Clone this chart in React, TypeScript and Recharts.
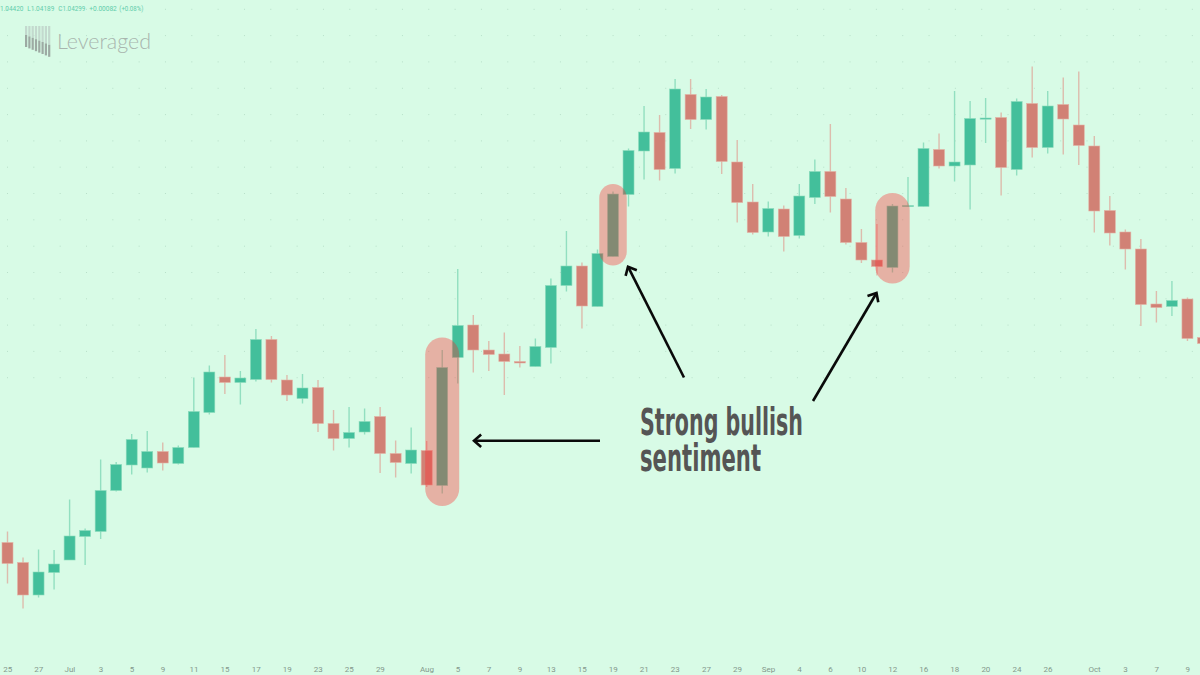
import {
  Bar, CartesianGrid, ComposedChart, XAxis, YAxis,
} from "recharts";

// price per candle
const opens = [
  0.9765, 0.9725, 0.966, 0.9705, 0.973, 0.9777, 0.9787, 0.9869, 0.992, 0.9914,
  0.9947, 0.9923, 0.9955, 1.0025, 1.0096, 1.0085, 1.0091, 1.0171, 1.009, 1.0053,
  1.0075, 1.0003, 0.9973, 0.9986, 1.0017, 0.9943, 0.9923, 0.9949, 0.9879, 1.0135,
  1.02, 1.015, 1.0142, 1.0127, 1.0117, 1.0155, 1.0279, 1.0318, 1.0237, 1.0337,
  1.0461, 1.0548, 1.0585, 1.0513, 1.0661, 1.0611, 1.0657, 1.0526, 1.0446, 1.0386,
  1.0432, 1.0379, 1.0455, 1.0507, 1.0452, 1.0365, 1.033, 1.0315, 1.0437, 1.0437,
  1.0551, 1.0518, 1.052, 1.0612, 1.0615, 1.0511, 1.0643, 1.0555, 1.0641, 1.06,
  1.0558, 1.0429, 1.0386, 1.0352, 1.0242, 1.0237, 1.0252, 1.0175,
];
const highs = [
  0.9787, 0.9735, 0.9751, 0.975, 0.9851, 0.9793, 0.9931, 0.9926, 0.9982, 0.9988,
  0.9965, 0.9959, 1.0095, 1.0119, 1.014, 1.0108, 1.0192, 1.0178, 1.01, 1.0102,
  1.009, 1.003, 1.0036, 1.0033, 1.0036, 0.9969, 0.9995, 0.9968, 1.015, 1.0312,
  1.022, 1.0168, 1.0185, 1.0158, 1.0173, 1.0293, 1.0388, 1.0325, 1.0351, 1.0467,
  1.0553, 1.0638, 1.062, 1.0692, 1.0692, 1.0672, 1.066, 1.057, 1.0482, 1.0447,
  1.0439, 1.0482, 1.0531, 1.0602, 1.0474, 1.0392, 1.0402, 1.0442, 1.0496, 1.0565,
  1.0583, 1.0668, 1.0648, 1.0654, 1.0625, 1.0653, 1.0717, 1.0668, 1.0695, 1.0707,
  1.0578, 1.0458, 1.0391, 1.0372, 1.0268, 1.0288, 1.0255, 1.0186,
];
const lows = [
  0.9683, 0.9633, 0.9655, 0.9671, 0.973, 0.972, 0.9772, 0.9867, 0.9901, 0.9905,
  0.9909, 0.9921, 0.9955, 1.0021, 1.0062, 1.0041, 1.0087, 1.0085, 1.0048, 1.0043,
  0.9986, 0.9949, 0.9955, 0.9981, 0.9904, 0.9895, 0.9903, 0.9876, 0.9863, 1.0083,
  1.0105, 1.0108, 1.006, 1.0115, 1.0117, 1.0123, 1.0267, 1.0193, 1.0237, 1.0337,
  1.0437, 1.0491, 1.0489, 1.0503, 1.0592, 1.0591, 1.0502, 1.0405, 1.0381, 1.0377,
  1.0347, 1.0373, 1.0442, 1.0425, 1.0361, 1.0324, 1.0299, 1.0305, 1.0437, 1.0437,
  1.0513, 1.0487, 1.0431, 1.0564, 1.0459, 1.0499, 1.0535, 1.0543, 1.0541, 1.052,
  1.0385, 1.0359, 1.0311, 1.0198, 1.0205, 1.0218, 1.0168, 1.0158,
];
const closes = [
  0.9723, 0.966, 0.9706, 0.9722, 0.9778, 0.9789, 0.9869, 0.9921, 0.9971, 0.9947,
  0.9924, 0.9955, 1.0027, 1.0106, 1.0085, 1.0094, 1.0171, 1.0091, 1.006, 1.0074,
  1.0003, 0.9973, 0.9985, 1.0007, 0.9943, 0.9925, 0.995, 0.988, 1.0115, 1.0199,
  1.015, 1.0141, 1.0127, 1.0124, 1.0157, 1.0279, 1.0318, 1.0238, 1.0343, 1.0462,
  1.0549, 1.0586, 1.0511, 1.0672, 1.0611, 1.0656, 1.0527, 1.0445, 1.0385, 1.0433,
  1.0377, 1.0458, 1.0507, 1.0457, 1.0365, 1.033, 1.0317, 1.0438, 1.0439, 1.0553,
  1.0518, 1.0526, 1.0613, 1.0614, 1.0515, 1.0647, 1.0555, 1.0638, 1.0612, 1.0559,
  1.0428, 1.0384, 1.0352, 1.0241, 1.0235, 1.0249, 1.0173, 1.0163,
];
const tickLabels = [
  "25", "", "27", "", "Jul", "", "3", "", "5", "", "9", "", "11", "", "15", "", "17", "", "19", "",
  "23", "", "25", "", "29", "", "", "Aug", "", "5", "", "7", "", "9", "", "13", "", "15", "", "19",
  "", "21", "", "23", "", "27", "", "29", "", "Sep", "", "4", "", "6", "", "10", "", "12", "", "16",
  "", "18", "", "20", "", "24", "", "26", "", "", "Oct", "", "3", "", "7", "", "9", "",
];
// the three highlighted candles: index, price span
const highlights = [
  { index: 28, top: 1.0175, bottom: 0.9838 },
  { index: 39, top: 1.0482, bottom: 1.0319 },
  { index: 57, top: 1.0464, bottom: 1.0283 },
];
const capsuleWidths = [34, 27.5, 34.4];
const gridRows = [9.3, 35.6, 61.9, 88.3, 114.6, 140.9, 167.2, 193.5, 219.8, 246.2, 272.5, 298.8, 325.1, 351.4, 377.7];

const data = opens.map((open, i) => {
  const h = highlights.findIndex((c) => c.index === i);
  return {
    i,
    open,
    high: highs[i],
    low: lows[i],
    close: closes[i],
    range: [lows[i], highs[i]] as [number, number],
    capsule: h >= 0 ? ([highlights[h].bottom, highlights[h].top] as [number, number]) : null,
    capWidth: h >= 0 ? capsuleWidths[h] : 0,
  };
});

const BG = "#d8fbe6";
const UP = "#43bf9b";
const DOWN = "#d18175";
const UP_WICK = "#92dfc0";
const DOWN_WICK = "#ddbcad";

function Candle(props: any) {
  const { x, y, width, height, payload } = props;
  const { open, high, low, close } = payload;
  const up = close >= open;
  const perPrice = height / (high - low);
  const cx = x + width / 2;
  const bodyTop = y + (high - Math.max(open, close)) * perPrice;
  const bodyH = Math.max(Math.abs(open - close) * perPrice, 1.2);
  return (
    <g>
      <rect x={cx - 0.7} y={y} width={1.4} height={height} fill={up ? UP_WICK : DOWN_WICK} />
      <rect x={cx - 5.5} y={bodyTop} width={11} height={bodyH} fill={up ? UP : DOWN}
        stroke={up ? "#8ddcbd" : "#e3b3a6"} strokeWidth={0.6} />
    </g>
  );
}

function Capsule(props: any) {
  const { x, y, width, height, payload } = props;
  if (!payload.capsule) return null;
  const w = payload.capWidth;
  return (
    <rect x={x + width / 2 - w / 2} y={y} width={w} height={height} rx={w / 2}
      fill="#ff2426" fillOpacity={0.34} />
  );
}

function Arrow({ x1, y1, x2, y2 }: { x1: number; y1: number; x2: number; y2: number }) {
  const a = Math.atan2(y2 - y1, x2 - x1);
  const arm = 9.5;
  const p1 = [x2 - arm * Math.cos(a - 0.72), y2 - arm * Math.sin(a - 0.72)];
  const p2 = [x2 - arm * Math.cos(a + 0.72), y2 - arm * Math.sin(a + 0.72)];
  return (
    <g stroke="#0a0a0a" strokeWidth={2.6} fill="none">
      <line x1={x1} y1={y1} x2={x2} y2={y2} />
      <path d={`M${p1[0]} ${p1[1]} L${x2} ${y2} L${p2[0]} ${p2[1]}`} />
    </g>
  );
}

const logoBars = [0, 1, 2, 3, 4, 5, 6, 7];

export default function App() {
  return (
    <div style={{ position: "absolute", left: 0, top: 0, width: 1200, height: 675, overflow: "hidden", background: BG }}>
      <ComposedChart width={1211} height={675} data={data} margin={{ top: 0, right: 0, bottom: 0, left: 0 }}>
        <CartesianGrid vertical={false} horizontalPoints={gridRows} stroke="#b8dfc9" strokeDasharray="0 7 1 18.33" />
        <XAxis
          dataKey="i"
          type="category"
          height={15}
          interval={0}
          axisLine={false}
          tickLine={false}
          tickMargin={0}
          tickFormatter={(v) => tickLabels[v]}
          tick={{ fontSize: 8, fill: "#84988c", fontFamily: "Roboto" }}
        />
        <XAxis xAxisId="capsules" dataKey="i" type="category" hide />
        <YAxis hide domain={[0.953, 1.085]} />
        <Bar dataKey="range" barSize={11} shape={Candle} isAnimationActive={false} />
        <Bar xAxisId="capsules" dataKey="capsule" barSize={11} shape={Capsule} isAnimationActive={false} />
      </ComposedChart>
      <svg width={1200} height={675} style={{ position: "absolute", left: 0, top: 0 }}>
        <g fontFamily="Roboto" fontSize={7.5} fill="#62cdab">
          <text x={0} y={11} textLength={23.5} lengthAdjust="spacingAndGlyphs">1.04420</text>
          <text x={27.3} y={11} textLength={27} lengthAdjust="spacingAndGlyphs">L1.04189</text>
          <text x={58.3} y={11} textLength={27} lengthAdjust="spacingAndGlyphs">C1.04299</text>
          <text x={89.3} y={11} textLength={27.5} lengthAdjust="spacingAndGlyphs">+0.00082</text>
          <text x={119.3} y={11} textLength={24} lengthAdjust="spacingAndGlyphs">(+0.08%)</text>
        </g>
        {logoBars.map((k) => (
          <g key={k}>
            <rect x={25 + k * 3.3} y={26} width={2.2} height={9 + k * 1.4} fill="#c3d9ce" />
            <rect x={25 + k * 3.3} y={35 + k * 1.4} width={2.2} height={12} fill="#9daaa3" />
          </g>
        ))}
        <text x={57} y={49} fontFamily="Lato" fontWeight={300} fontSize={22} fill="#a8b5ae" textLength={94} lengthAdjust="spacingAndGlyphs">
          Leveraged
        </text>
        <Arrow x1={600} y1={440.7} x2={474} y2={440.7} />
        <Arrow x1={684} y1={377.5} x2={628} y2={266.7} />
        <Arrow x1={813} y1={401} x2={876.5} y2={293} />
        {/* tall condensed caption: the font is stretched to the reference's height */}
        <g fontFamily="'Liberation Sans Narrow', 'DejaVu Sans Condensed', sans-serif" fontWeight={700} fontSize={30} fill="#555555">
          <text transform="translate(640 435) scale(1 1.27)" textLength={163} lengthAdjust="spacingAndGlyphs">Strong bullish</text>
          <text transform="translate(640 471) scale(1 1.27)" textLength={121} lengthAdjust="spacingAndGlyphs">sentiment</text>
        </g>
      </svg>
    </div>
  );
}
